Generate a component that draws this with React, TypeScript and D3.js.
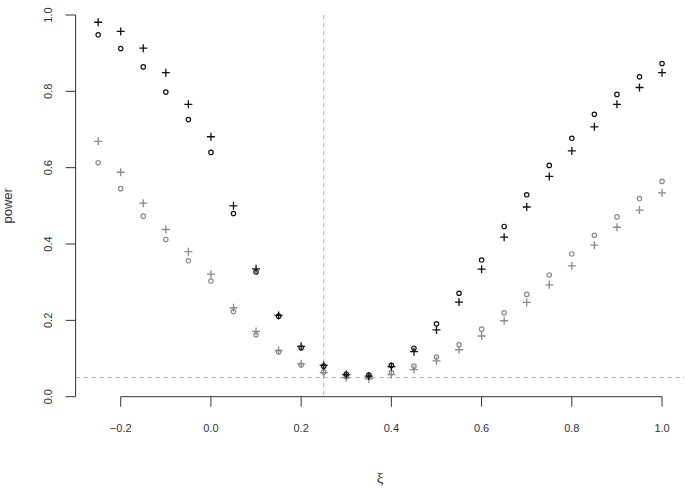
import React from "react";
import * as d3 from "d3";

const width = 685;
const height = 488;

// xi grid
const xiValues = [
  -0.25, -0.2, -0.15, -0.1, -0.05, 0, 0.05, 0.1, 0.15, 0.2, 0.25, 0.3, 0.35,
  0.4, 0.45, 0.5, 0.55, 0.6, 0.65, 0.7, 0.75, 0.8, 0.85, 0.9, 0.95, 1.0,
];

// power estimates
const blackCircle = [
  0.948, 0.912, 0.864, 0.798, 0.726, 0.64, 0.48, 0.327, 0.211, 0.128, 0.08,
  0.059, 0.057, 0.082, 0.127, 0.191, 0.271, 0.358, 0.446, 0.529, 0.606, 0.677,
  0.74, 0.792, 0.838, 0.873,
];
const blackPlus = [
  0.981, 0.957, 0.913, 0.849, 0.766, 0.681, 0.5, 0.335, 0.213, 0.132, 0.082,
  0.058, 0.054, 0.079, 0.118, 0.175, 0.248, 0.334, 0.418, 0.497, 0.577, 0.644,
  0.707, 0.766, 0.81, 0.849,
];
const greyCircle = [
  0.613, 0.545, 0.473, 0.412, 0.356, 0.303, 0.223, 0.162, 0.117, 0.083, 0.065,
  0.052, 0.052, 0.063, 0.08, 0.104, 0.136, 0.177, 0.22, 0.268, 0.319, 0.374,
  0.423, 0.471, 0.519, 0.564,
];
const greyPlus = [
  0.669, 0.588, 0.507, 0.438, 0.38, 0.321, 0.233, 0.171, 0.121, 0.086, 0.063,
  0.05, 0.047, 0.058, 0.071, 0.094, 0.123, 0.159, 0.199, 0.247, 0.293, 0.343,
  0.397, 0.444, 0.489, 0.534,
];

const xTicks = [-0.2, 0.0, 0.2, 0.4, 0.6, 0.8, 1.0];
const yTicks = [0.0, 0.2, 0.4, 0.6, 0.8, 1.0];
const refXi = 0.25;
const refLevel = 0.05;

const xScale = d3.scaleLinear().domain([-0.3, 1.05]).range([75.6, 684.6]);
const yScale = d3.scaleLinear().domain([0, 1]).range([396.7, 15]);

const axisColor = "#333";
const black = "#111";
const grey = "#8a8a8a";
const font = "'Liberation Sans', Arial, sans-serif";

const plusPath = "M-4,0H4M0,-4V4";

function Circles({ values, color }: { values: number[]; color: string }) {
  return (
    <g fill="none" stroke={color} strokeWidth={1.2}>
      {values.map((v, i) => (
        <circle key={i} cx={xScale(xiValues[i])} cy={yScale(v)} r={2.2} />
      ))}
    </g>
  );
}

function Pluses({ values, color }: { values: number[]; color: string }) {
  return (
    <g fill="none" stroke={color} strokeWidth={1.3}>
      {values.map((v, i) => (
        <path
          key={i}
          d={plusPath}
          transform={`translate(${xScale(xiValues[i])},${yScale(v)})`}
        />
      ))}
    </g>
  );
}

export default function App() {
  const [x0, x1] = xScale.range();
  const yBottom = yScale(0);
  const yTop = yScale(1);
  const axisX = x0;

  return (
    <svg
      width={width}
      height={height}
      style={{ position: "absolute", left: 0, top: 0, background: "#fff" }}
    >
      {/* reference lines */}
      <g stroke="#aaa" strokeWidth={1} strokeDasharray="4,4" fill="none">
        <line
          x1={xScale(refXi)}
          x2={xScale(refXi)}
          y1={yTop}
          y2={yBottom}
        />
        <line x1={x0} x2={x1} y1={yScale(refLevel)} y2={yScale(refLevel)} />
      </g>

      {/* points */}
      <Circles values={greyCircle} color={grey} />
      <Pluses values={greyPlus} color={grey} />
      <Circles values={blackCircle} color={black} />
      <Pluses values={blackPlus} color={black} />

      {/* x axis */}
      <g stroke={axisColor} strokeWidth={1} fill="none">
        <line
          x1={xScale(xTicks[0])}
          x2={xScale(xTicks[xTicks.length - 1])}
          y1={yBottom}
          y2={yBottom}
        />
        {xTicks.map((t) => (
          <line
            key={t}
            x1={xScale(t)}
            x2={xScale(t)}
            y1={yBottom}
            y2={yBottom + 10}
          />
        ))}
      </g>
      <g fill={axisColor} fontFamily={font} fontSize={11} textAnchor="middle">
        {xTicks.map((t) => (
          <text key={t} x={xScale(t)} y={432}>
            {d3.format(".1f")(t).replace("-", "\u2212")}
          </text>
        ))}
      </g>

      {/* y axis */}
      <g stroke={axisColor} strokeWidth={1} fill="none">
        <line x1={axisX} x2={axisX} y1={yBottom} y2={yTop} />
        {yTicks.map((t) => (
          <line
            key={t}
            x1={axisX - 10}
            x2={axisX}
            y1={yScale(t)}
            y2={yScale(t)}
          />
        ))}
      </g>
      <g fill={axisColor} fontFamily={font} fontSize={11} textAnchor="middle">
        {yTicks.map((t) => (
          <text
            key={t}
            transform={`translate(52,${yScale(t)}) rotate(-90)`}
          >
            {d3.format(".1f")(t)}
          </text>
        ))}
      </g>

      {/* axis titles */}
      <text
        transform={`translate(12,${(yTop + yBottom) / 2}) rotate(-90)`}
        textAnchor="middle"
        fontFamily={font}
        fontSize={13}
        fill={axisColor}
      >
        power
      </text>
      <text
        x={(x0 + x1) / 2}
        y={483}
        textAnchor="middle"
        fontFamily="'Liberation Serif', 'DejaVu Serif', serif"
        fontSize={15}
        fill={axisColor}
      >
        ξ
      </text>
    </svg>
  );
}
